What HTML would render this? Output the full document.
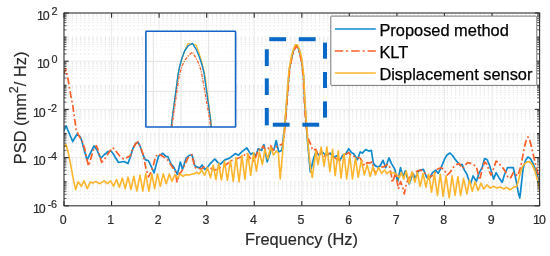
<!DOCTYPE html>
<html lang="en">
<head>
<meta charset="utf-8">
<title>PSD comparison</title>
<style>
html,body{margin:0;padding:0;background:#ffffff;}
body{width:550px;height:256px;overflow:hidden;font-family:"Liberation Sans",Arial,sans-serif;}
svg{display:block;}
</style>
</head>
<body>
<svg width="550" height="256" viewBox="0 0 550 256">
<rect x="0" y="0" width="550" height="256" fill="#ffffff"/>
<g stroke="#e0e0e0" stroke-width="0.85" stroke-dasharray="1.3 2.82" fill="none">
<line x1="67.6" y1="198.55" x2="539.6" y2="198.55"/>
<line x1="67.6" y1="194.30" x2="539.6" y2="194.30"/>
<line x1="67.6" y1="191.29" x2="539.6" y2="191.29"/>
<line x1="67.6" y1="188.95" x2="539.6" y2="188.95"/>
<line x1="67.6" y1="187.05" x2="539.6" y2="187.05"/>
<line x1="67.6" y1="185.43" x2="539.6" y2="185.43"/>
<line x1="67.6" y1="184.04" x2="539.6" y2="184.04"/>
<line x1="67.6" y1="182.80" x2="539.6" y2="182.80"/>
<line x1="67.6" y1="174.45" x2="539.6" y2="174.45"/>
<line x1="67.6" y1="170.20" x2="539.6" y2="170.20"/>
<line x1="67.6" y1="167.19" x2="539.6" y2="167.19"/>
<line x1="67.6" y1="164.85" x2="539.6" y2="164.85"/>
<line x1="67.6" y1="162.95" x2="539.6" y2="162.95"/>
<line x1="67.6" y1="161.33" x2="539.6" y2="161.33"/>
<line x1="67.6" y1="159.94" x2="539.6" y2="159.94"/>
<line x1="67.6" y1="158.70" x2="539.6" y2="158.70"/>
<line x1="67.6" y1="150.35" x2="539.6" y2="150.35"/>
<line x1="67.6" y1="146.10" x2="539.6" y2="146.10"/>
<line x1="67.6" y1="143.09" x2="539.6" y2="143.09"/>
<line x1="67.6" y1="140.75" x2="539.6" y2="140.75"/>
<line x1="67.6" y1="138.85" x2="539.6" y2="138.85"/>
<line x1="67.6" y1="137.23" x2="539.6" y2="137.23"/>
<line x1="67.6" y1="135.84" x2="539.6" y2="135.84"/>
<line x1="67.6" y1="134.60" x2="539.6" y2="134.60"/>
<line x1="67.6" y1="126.25" x2="539.6" y2="126.25"/>
<line x1="67.6" y1="122.00" x2="539.6" y2="122.00"/>
<line x1="67.6" y1="118.99" x2="539.6" y2="118.99"/>
<line x1="67.6" y1="116.65" x2="539.6" y2="116.65"/>
<line x1="67.6" y1="114.75" x2="539.6" y2="114.75"/>
<line x1="67.6" y1="113.13" x2="539.6" y2="113.13"/>
<line x1="67.6" y1="111.74" x2="539.6" y2="111.74"/>
<line x1="67.6" y1="110.50" x2="539.6" y2="110.50"/>
<line x1="67.6" y1="102.15" x2="539.6" y2="102.15"/>
<line x1="67.6" y1="97.90" x2="539.6" y2="97.90"/>
<line x1="67.6" y1="94.89" x2="539.6" y2="94.89"/>
<line x1="67.6" y1="92.55" x2="539.6" y2="92.55"/>
<line x1="67.6" y1="90.65" x2="539.6" y2="90.65"/>
<line x1="67.6" y1="89.03" x2="539.6" y2="89.03"/>
<line x1="67.6" y1="87.64" x2="539.6" y2="87.64"/>
<line x1="67.6" y1="86.40" x2="539.6" y2="86.40"/>
<line x1="67.6" y1="78.05" x2="539.6" y2="78.05"/>
<line x1="67.6" y1="73.80" x2="539.6" y2="73.80"/>
<line x1="67.6" y1="70.79" x2="539.6" y2="70.79"/>
<line x1="67.6" y1="68.45" x2="539.6" y2="68.45"/>
<line x1="67.6" y1="66.55" x2="539.6" y2="66.55"/>
<line x1="67.6" y1="64.93" x2="539.6" y2="64.93"/>
<line x1="67.6" y1="63.54" x2="539.6" y2="63.54"/>
<line x1="67.6" y1="62.30" x2="539.6" y2="62.30"/>
<line x1="67.6" y1="53.95" x2="539.6" y2="53.95"/>
<line x1="67.6" y1="49.70" x2="539.6" y2="49.70"/>
<line x1="67.6" y1="46.69" x2="539.6" y2="46.69"/>
<line x1="67.6" y1="44.35" x2="539.6" y2="44.35"/>
<line x1="67.6" y1="42.45" x2="539.6" y2="42.45"/>
<line x1="67.6" y1="40.83" x2="539.6" y2="40.83"/>
<line x1="67.6" y1="39.44" x2="539.6" y2="39.44"/>
<line x1="67.6" y1="38.20" x2="539.6" y2="38.20"/>
<line x1="67.6" y1="29.85" x2="539.6" y2="29.85"/>
<line x1="67.6" y1="25.60" x2="539.6" y2="25.60"/>
<line x1="67.6" y1="22.59" x2="539.6" y2="22.59"/>
<line x1="67.6" y1="20.25" x2="539.6" y2="20.25"/>
<line x1="67.6" y1="18.35" x2="539.6" y2="18.35"/>
<line x1="67.6" y1="16.73" x2="539.6" y2="16.73"/>
<line x1="67.6" y1="15.34" x2="539.6" y2="15.34"/>
<line x1="67.6" y1="14.10" x2="539.6" y2="14.10"/>
</g>
<g stroke="#ececec" stroke-width="1" fill="none">
<line x1="111.56" y1="13.0" x2="111.56" y2="205.8"/>
<line x1="159.12" y1="13.0" x2="159.12" y2="205.8"/>
<line x1="206.68" y1="13.0" x2="206.68" y2="205.8"/>
<line x1="254.24" y1="13.0" x2="254.24" y2="205.8"/>
<line x1="301.80" y1="13.0" x2="301.80" y2="205.8"/>
<line x1="349.36" y1="13.0" x2="349.36" y2="205.8"/>
<line x1="396.92" y1="13.0" x2="396.92" y2="205.8"/>
<line x1="444.48" y1="13.0" x2="444.48" y2="205.8"/>
<line x1="492.04" y1="13.0" x2="492.04" y2="205.8"/>
<line x1="67.6" y1="181.70" x2="539.6" y2="181.70" stroke-width="0.85" stroke-dasharray="1.3 2.82" stroke="#e0e0e0"/>
<line x1="64.0" y1="157.60" x2="539.6" y2="157.60"/>
<line x1="67.6" y1="133.50" x2="539.6" y2="133.50" stroke-width="0.85" stroke-dasharray="1.3 2.82" stroke="#e0e0e0"/>
<line x1="64.0" y1="109.40" x2="539.6" y2="109.40"/>
<line x1="67.6" y1="85.30" x2="539.6" y2="85.30" stroke-width="0.85" stroke-dasharray="1.3 2.82" stroke="#e0e0e0"/>
<line x1="64.0" y1="61.20" x2="539.6" y2="61.20"/>
<line x1="67.6" y1="37.10" x2="539.6" y2="37.10" stroke-width="0.85" stroke-dasharray="1.3 2.82" stroke="#e0e0e0"/>
</g>
<clipPath id="ax"><rect x="64.0" y="13.0" width="475.6" height="192.8"/></clipPath>
<g clip-path="url(#ax)" fill="none" stroke-linejoin="round" stroke-linecap="butt">
<polyline stroke="#0f8acc" stroke-width="1.7" points="63.8,130.7 66.1,125.9 69.5,134.0 72.7,141.5 75.0,137.5 77.2,134.0 80.4,137.0 82.0,141.5 84.2,150.0 87.0,160.0 90.0,154.0 92.0,150.0 94.0,146.0 97.0,150.0 99.0,155.0 101.0,158.0 104.5,154.5 108.0,151.5 111.0,151.0 113.0,153.5 116.0,158.5 118.5,162.5 121.0,162.0 124.0,161.5 128.0,163.5 130.8,155.5 133.0,148.2 135.9,143.1 138.1,142.4 140.3,146.7 143.2,155.5 145.4,159.8 148.3,160.5 151.2,166.4 154.1,172.9 156.3,164.2 158.5,156.2 162.8,153.3 165.7,156.2 167.9,156.9 170.8,163.5 173.7,167.1 177.4,174.4 180.3,162.0 182.5,169.3 186.1,158.4 189.0,155.5 191.9,154.7 193.4,159.8 194.8,165.6 197.0,167.1 199.9,167.8 202.1,164.9 204.6,169.3 206.6,168.3 209.8,164.2 214.8,159.0 218.0,162.6 220.5,164.2 224.6,160.1 230.3,157.7 235.2,153.6 238.5,155.2 241.8,151.9 246.7,147.8 249.2,151.9 250.8,154.4 253.3,152.8 255.7,156.0 258.2,148.7 261.5,150.3 263.9,144.6 267.2,161.8 269.7,154.4 271.3,148.7 273.8,150.3 276.2,140.5 278.7,151.9 282.0,150.3 283.5,136.0 284.6,128.0 287.0,99.0 289.3,70.0 291.7,57.0 294.0,49.3 295.6,45.4 297.1,45.4 298.9,49.5 301.2,58.0 303.4,75.0 304.6,100.0 306.2,124.0 307.6,142.0 309.0,158.0 310.3,172.0 312.5,163.0 314.0,157.0 315.9,152.0 319.2,155.3 321.4,151.5 324.1,153.7 326.9,155.3 330.1,153.1 333.4,157.5 336.7,155.8 340.0,160.2 342.7,155.3 346.0,153.7 348.7,148.7 351.4,152.6 353.6,153.7 355.8,156.9 357.5,159.7 360.2,152.0 362.4,153.1 365.6,149.5 368.9,151.1 371.3,150.3 373.4,163.4 375.4,165.9 378.0,167.0 380.0,166.0 383.0,160.3 385.7,167.7 389.0,157.8 391.5,163.6 394.8,169.3 397.7,181.6 400.5,167.7 403.0,176.7 405.4,170.9 409.2,184.0 412.8,173.4 415.2,178.3 418.5,170.9 423.4,169.3 426.7,177.5 429.2,179.1 432.5,172.6 435.7,170.1 438.2,173.4 441.5,166.8 444.8,158.6 447.0,155.0 450.0,153.0 452.5,155.5 454.6,158.6 457.9,162.7 460.3,165.2 462.0,164.4 464.4,170.1 466.9,174.2 469.0,180.8 470.7,183.2 473.1,175.9 476.4,181.6 478.9,173.4 482.1,167.7 484.6,158.6 487.0,159.5 489.5,165.2 492.0,173.4 493.6,179.1 496.1,172.6 499.3,178.3 502.3,182.4 504.3,175.0 507.5,167.7 513.3,167.7 515.7,178.3 518.2,192.2 519.8,198.0 521.5,183.2 523.1,168.5 525.6,160.3 528.0,157.0 530.5,158.6 533.8,165.2 536.2,171.8 538.7,179.1 540.0,184.9"/>
<polyline stroke="#fb5f28" stroke-width="1.7" stroke-dasharray="7 2.6 1.8 2.6" points="63.8,74.0 65.8,69.0 67.8,77.6 70.7,95.2 72.7,105.0 74.2,116.0 76.2,130.0 79.0,136.0 83.0,142.5 85.0,150.0 87.0,160.0 88.6,166.0 91.0,158.0 93.5,150.0 96.3,145.7 98.5,151.0 100.0,157.0 101.6,162.3 104.0,160.0 107.0,155.3 110.0,151.0 112.8,147.6 116.6,152.0 119.8,156.0 123.6,159.0 126.0,158.0 130.0,156.0 132.4,150.0 135.5,144.0 138.0,142.0 140.5,147.0 143.0,154.0 146.1,169.3 148.5,177.0 151.2,171.5 153.4,164.9 155.5,156.9 157.7,154.0 161.4,155.5 167.2,159.1 170.1,163.5 172.3,167.1 175.2,170.7 177.0,182.0 179.5,173.5 181.0,172.2 183.2,168.5 185.4,163.5 187.5,158.4 191.9,154.7 193.4,161.3 194.8,167.1 196.3,168.5 198.0,168.0 201.0,169.0 204.0,167.0 207.0,170.0 211.5,168.3 215.0,170.0 219.0,168.0 222.0,167.0 224.6,165.9 227.5,163.5 230.3,161.0 235.0,159.3 240.0,157.5 244.3,155.2 246.7,152.8 250.8,159.3 254.1,161.0 256.5,155.0 258.2,149.5 261.0,150.0 263.1,146.2 265.5,150.0 268.0,149.0 270.5,145.4 273.0,150.3 277.0,146.2 279.5,145.4 282.8,143.7 284.0,138.0 284.9,128.0 287.3,99.0 289.6,70.0 291.9,57.5 294.2,50.3 295.8,46.6 297.0,46.6 298.8,50.7 301.0,59.0 303.1,75.0 304.3,100.0 305.8,124.0 308.0,138.0 310.5,143.8 312.7,150.4 315.9,149.3 317.6,153.7 319.8,153.1 324.1,156.4 328.5,153.7 330.7,153.1 334.0,156.9 336.7,159.1 339.4,160.2 341.6,158.0 344.9,154.8 348.7,152.6 350.9,155.3 353.6,156.4 357.5,157.5 360.2,158.0 362.4,161.9 364.6,165.7 367.2,162.6 370.0,163.0 372.1,161.8 373.8,169.1 375.4,173.2 377.9,169.1 380.0,166.8 383.5,167.0 387.4,164.5 389.5,166.0 391.5,175.9 392.3,182.4 395.6,173.4 397.7,184.9 398.4,189.0 400.5,181.6 403.0,188.1 404.3,193.9 406.2,184.0 409.0,178.0 412.8,174.2 417.7,170.9 421.0,170.1 425.1,173.4 429.2,177.5 433.3,175.0 437.4,169.3 440.7,167.7 443.9,169.3 447.2,175.0 450.5,171.8 453.8,166.8 457.0,164.4 459.5,163.6 462.0,168.5 464.4,166.0 467.4,162.7 469.8,163.0 473.1,164.4 476.4,166.8 478.0,173.4 479.7,180.0 482.1,169.3 484.6,161.9 487.0,164.4 489.5,171.8 491.1,175.0 493.6,168.5 496.1,161.1 498.5,162.7 501.0,166.0 503.4,168.5 505.9,172.6 508.4,178.3 510.8,177.5 513.3,172.6 515.5,174.0 517.4,175.9 519.0,172.0 520.7,166.8 522.3,158.6 524.0,149.0 526.0,141.0 528.0,137.0 530.0,141.0 532.0,149.0 533.8,157.0 536.2,166.8 538.4,175.0 540.0,183.2"/>
<polyline stroke="#fdb52c" stroke-width="1.6" points="64.2,147.0 66.0,144.5 68.3,152.7 70.8,165.5 73.7,180.9 75.6,189.7 78.2,181.8 81.3,186.4 84.0,180.9 87.3,188.6 90.3,182.0 92.8,183.1 95.7,181.5 99.9,183.7 104.3,180.9 107.5,183.7 110.6,180.9 113.6,186.3 116.5,179.5 119.4,187.2 122.3,178.1 125.2,188.6 128.0,177.2 131.0,189.5 133.8,176.4 136.8,191.0 140.0,175.1 142.8,191.1 145.7,173.9 148.9,191.1 151.8,173.9 154.6,188.7 157.5,173.9 160.3,186.2 163.3,173.9 166.2,183.8 169.3,173.9 172.0,181.3 174.8,174.6 177.5,178.0 180.5,174.0 183.0,176.4 186.0,174.6 189.0,175.0 192.0,174.0 194.5,173.6 196.9,172.3 199.0,174.0 201.7,170.0 204.6,175.5 207.5,167.5 210.5,177.7 213.2,165.1 215.9,179.5 218.7,163.5 221.4,180.0 224.5,161.3 227.4,180.5 230.4,160.2 233.2,181.5 236.1,157.5 239.1,182.0 241.9,155.3 244.9,179.3 247.8,153.6 250.7,175.5 253.6,152.5 256.4,171.1 259.4,152.0 262.4,164.6 264.9,149.5 267.8,159.0 270.6,147.5 273.5,155.0 276.4,151.0 278.4,153.0 280.2,179.0 282.6,152.8 283.4,142.0 284.4,128.0 286.7,99.0 289.0,70.0 291.4,56.5 293.6,48.5 295.3,44.8 297.3,44.8 299.2,48.5 301.6,57.5 303.7,75.0 304.9,100.0 306.5,124.0 307.6,140.0 308.8,152.0 310.5,168.0 312.3,177.5 314.0,164.0 315.9,150.9 317.9,164.6 321.2,147.1 324.1,166.2 326.9,147.1 329.9,171.6 332.5,149.3 335.2,175.7 338.3,150.9 341.0,178.2 344.1,153.7 346.7,179.0 349.8,155.8 352.5,179.0 355.5,158.0 358.2,177.3 361.3,160.2 364.3,174.9 367.2,165.0 370.2,176.5 373.0,166.7 375.4,174.9 378.7,167.5 381.5,173.3 384.5,170.0 386.8,173.7 389.0,171.8 391.5,173.4 394.0,172.6 396.4,174.2 399.3,177.5 401.3,172.6 403.8,179.1 406.2,171.0 409.2,183.2 412.0,171.8 414.8,182.4 417.4,172.6 420.2,186.5 423.0,173.4 425.9,187.3 428.7,174.2 431.6,192.2 434.4,173.4 437.4,195.5 440.3,174.2 443.1,196.3 446.1,175.9 449.2,198.0 452.1,175.9 455.1,195.5 457.9,176.7 460.6,195.5 463.6,178.3 466.9,193.9 469.5,180.0 472.3,191.4 475.1,181.6 478.0,190.6 481.0,183.2 483.8,189.0 487.0,184.9 490.3,188.1 493.6,186.2 496.9,188.1 500.2,187.0 503.9,189.0 506.7,187.3 510.0,189.8 513.3,187.3 516.6,186.5 518.2,181.6 519.8,175.0 522.3,166.8 524.8,163.6 527.2,161.9 529.7,161.9 532.1,164.4 534.6,170.1 537.0,178.3 538.7,184.9 540.3,194.7"/>
</g>
<g stroke="#0a69c8" stroke-width="4" fill="none">
<line x1="269.3" y1="39.2" x2="286.0" y2="39.2"/>
<line x1="298.8" y1="39.2" x2="315.6" y2="39.2"/>
<line x1="272.8" y1="124.7" x2="289.6" y2="124.7"/>
<line x1="302.4" y1="124.7" x2="319.2" y2="124.7"/>
<line x1="266.8" y1="49.3" x2="266.8" y2="66.0"/>
<line x1="266.8" y1="78.4" x2="266.8" y2="95.0"/>
<line x1="266.8" y1="108.0" x2="266.8" y2="125.4"/>
<line x1="325.0" y1="42.6" x2="325.0" y2="58.7"/>
<line x1="325.0" y1="72.0" x2="325.0" y2="88.0"/>
<line x1="325.0" y1="101.4" x2="325.0" y2="117.6"/>
</g>
<rect x="145.9" y="31.3" width="89.7" height="95.7" fill="#ffffff"/>
<g stroke="#e4e4e4" stroke-width="1" fill="none">
<line x1="153.4" y1="31.3" x2="153.4" y2="127.0"/>
<line x1="181.0" y1="31.3" x2="181.0" y2="127.0"/>
<line x1="208.6" y1="31.3" x2="208.6" y2="127.0"/>
<line x1="145.9" y1="61.4" x2="235.6" y2="61.4"/>
<line x1="145.9" y1="91.4" x2="235.6" y2="91.4"/>
</g>
<g stroke="#f0f0f0" stroke-width="0.8" stroke-dasharray="1.2 2.9" fill="none">
<line x1="147.9" y1="52.37" x2="235.6" y2="52.37"/>
<line x1="147.9" y1="47.09" x2="235.6" y2="47.09"/>
<line x1="147.9" y1="43.34" x2="235.6" y2="43.34"/>
<line x1="147.9" y1="40.43" x2="235.6" y2="40.43"/>
<line x1="147.9" y1="38.06" x2="235.6" y2="38.06"/>
<line x1="147.9" y1="36.05" x2="235.6" y2="36.05"/>
<line x1="147.9" y1="34.31" x2="235.6" y2="34.31"/>
<line x1="147.9" y1="32.77" x2="235.6" y2="32.77"/>
<line x1="147.9" y1="82.37" x2="235.6" y2="82.37"/>
<line x1="147.9" y1="77.09" x2="235.6" y2="77.09"/>
<line x1="147.9" y1="73.34" x2="235.6" y2="73.34"/>
<line x1="147.9" y1="70.43" x2="235.6" y2="70.43"/>
<line x1="147.9" y1="68.06" x2="235.6" y2="68.06"/>
<line x1="147.9" y1="66.05" x2="235.6" y2="66.05"/>
<line x1="147.9" y1="64.31" x2="235.6" y2="64.31"/>
<line x1="147.9" y1="62.77" x2="235.6" y2="62.77"/>
<line x1="147.9" y1="112.37" x2="235.6" y2="112.37"/>
<line x1="147.9" y1="107.09" x2="235.6" y2="107.09"/>
<line x1="147.9" y1="103.34" x2="235.6" y2="103.34"/>
<line x1="147.9" y1="100.43" x2="235.6" y2="100.43"/>
<line x1="147.9" y1="98.06" x2="235.6" y2="98.06"/>
<line x1="147.9" y1="96.05" x2="235.6" y2="96.05"/>
<line x1="147.9" y1="94.31" x2="235.6" y2="94.31"/>
<line x1="147.9" y1="92.77" x2="235.6" y2="92.77"/>
</g>
<clipPath id="in"><rect x="145.9" y="31.3" width="89.7" height="95.7"/></clipPath>
<g clip-path="url(#in)" fill="none" stroke-linejoin="round">
<polyline stroke="#fdb52c" stroke-width="1.25" points="171.3,127.2 172.0,120.0 178.4,72.0 179.4,67.0 182.0,59.0 185.0,50.0 188.0,43.6 196.0,44.8 199.0,53.0 202.0,63.0 204.0,71.0 205.4,78.0 210.8,120.0 211.3,127.2"/>
<polyline stroke="#0f8acc" stroke-width="1.4" points="171.3,127.2 172.0,120.0 178.0,75.0 180.0,65.0 182.0,58.0 184.6,51.0 188.0,46.0 192.4,43.4 196.0,49.0 199.0,56.0 202.0,65.0 204.0,73.0 210.6,120.0 211.1,127.2"/>
<polyline stroke="#fb5f28" stroke-width="1.3" stroke-dasharray="3.2 1.3 1.1 1.3" points="171.9,127.2 172.8,120.0 178.8,78.0 180.0,73.0 182.0,66.0 185.0,60.0 188.0,56.0 192.4,52.0 196.0,58.0 199.0,64.0 201.4,72.0 202.8,80.0 209.8,120.0 210.5,127.2"/>
</g>
<rect x="145.9" y="31.3" width="89.7" height="95.7" fill="none" stroke="#1362c9" stroke-width="1.6" rx="0.6"/>
<g stroke="#303030" stroke-width="1.1" fill="none">
<rect x="64.0" y="13.0" width="475.6" height="192.8"/>
<line x1="64.00" y1="205.8" x2="64.00" y2="201.0"/>
<line x1="64.00" y1="13.0" x2="64.00" y2="17.8"/>
<line x1="111.56" y1="205.8" x2="111.56" y2="201.0"/>
<line x1="111.56" y1="13.0" x2="111.56" y2="17.8"/>
<line x1="159.12" y1="205.8" x2="159.12" y2="201.0"/>
<line x1="159.12" y1="13.0" x2="159.12" y2="17.8"/>
<line x1="206.68" y1="205.8" x2="206.68" y2="201.0"/>
<line x1="206.68" y1="13.0" x2="206.68" y2="17.8"/>
<line x1="254.24" y1="205.8" x2="254.24" y2="201.0"/>
<line x1="254.24" y1="13.0" x2="254.24" y2="17.8"/>
<line x1="301.80" y1="205.8" x2="301.80" y2="201.0"/>
<line x1="301.80" y1="13.0" x2="301.80" y2="17.8"/>
<line x1="349.36" y1="205.8" x2="349.36" y2="201.0"/>
<line x1="349.36" y1="13.0" x2="349.36" y2="17.8"/>
<line x1="396.92" y1="205.8" x2="396.92" y2="201.0"/>
<line x1="396.92" y1="13.0" x2="396.92" y2="17.8"/>
<line x1="444.48" y1="205.8" x2="444.48" y2="201.0"/>
<line x1="444.48" y1="13.0" x2="444.48" y2="17.8"/>
<line x1="492.04" y1="205.8" x2="492.04" y2="201.0"/>
<line x1="492.04" y1="13.0" x2="492.04" y2="17.8"/>
<line x1="539.60" y1="205.8" x2="539.60" y2="201.0"/>
<line x1="539.60" y1="13.0" x2="539.60" y2="17.8"/>
<line x1="64.0" y1="205.80" x2="68.8" y2="205.80"/>
<line x1="539.6" y1="205.80" x2="534.8" y2="205.80"/>
<line x1="64.0" y1="181.70" x2="66.6" y2="181.70"/>
<line x1="539.6" y1="181.70" x2="537.0" y2="181.70"/>
<line x1="64.0" y1="157.60" x2="68.8" y2="157.60"/>
<line x1="539.6" y1="157.60" x2="534.8" y2="157.60"/>
<line x1="64.0" y1="133.50" x2="66.6" y2="133.50"/>
<line x1="539.6" y1="133.50" x2="537.0" y2="133.50"/>
<line x1="64.0" y1="109.40" x2="68.8" y2="109.40"/>
<line x1="539.6" y1="109.40" x2="534.8" y2="109.40"/>
<line x1="64.0" y1="85.30" x2="66.6" y2="85.30"/>
<line x1="539.6" y1="85.30" x2="537.0" y2="85.30"/>
<line x1="64.0" y1="61.20" x2="68.8" y2="61.20"/>
<line x1="539.6" y1="61.20" x2="534.8" y2="61.20"/>
<line x1="64.0" y1="37.10" x2="66.6" y2="37.10"/>
<line x1="539.6" y1="37.10" x2="537.0" y2="37.10"/>
<line x1="64.0" y1="13.00" x2="68.8" y2="13.00"/>
<line x1="539.6" y1="13.00" x2="534.8" y2="13.00"/>
</g>
<g stroke="#303030" stroke-width="0.8" fill="none">
<line x1="64.0" y1="198.55" x2="66.5" y2="198.55"/>
<line x1="539.6" y1="198.55" x2="537.1" y2="198.55"/>
<line x1="64.0" y1="194.30" x2="66.5" y2="194.30"/>
<line x1="539.6" y1="194.30" x2="537.1" y2="194.30"/>
<line x1="64.0" y1="191.29" x2="66.5" y2="191.29"/>
<line x1="539.6" y1="191.29" x2="537.1" y2="191.29"/>
<line x1="64.0" y1="188.95" x2="66.5" y2="188.95"/>
<line x1="539.6" y1="188.95" x2="537.1" y2="188.95"/>
<line x1="64.0" y1="187.05" x2="66.5" y2="187.05"/>
<line x1="539.6" y1="187.05" x2="537.1" y2="187.05"/>
<line x1="64.0" y1="185.43" x2="66.5" y2="185.43"/>
<line x1="539.6" y1="185.43" x2="537.1" y2="185.43"/>
<line x1="64.0" y1="184.04" x2="66.5" y2="184.04"/>
<line x1="539.6" y1="184.04" x2="537.1" y2="184.04"/>
<line x1="64.0" y1="182.80" x2="66.5" y2="182.80"/>
<line x1="539.6" y1="182.80" x2="537.1" y2="182.80"/>
<line x1="64.0" y1="174.45" x2="66.5" y2="174.45"/>
<line x1="539.6" y1="174.45" x2="537.1" y2="174.45"/>
<line x1="64.0" y1="170.20" x2="66.5" y2="170.20"/>
<line x1="539.6" y1="170.20" x2="537.1" y2="170.20"/>
<line x1="64.0" y1="167.19" x2="66.5" y2="167.19"/>
<line x1="539.6" y1="167.19" x2="537.1" y2="167.19"/>
<line x1="64.0" y1="164.85" x2="66.5" y2="164.85"/>
<line x1="539.6" y1="164.85" x2="537.1" y2="164.85"/>
<line x1="64.0" y1="162.95" x2="66.5" y2="162.95"/>
<line x1="539.6" y1="162.95" x2="537.1" y2="162.95"/>
<line x1="64.0" y1="161.33" x2="66.5" y2="161.33"/>
<line x1="539.6" y1="161.33" x2="537.1" y2="161.33"/>
<line x1="64.0" y1="159.94" x2="66.5" y2="159.94"/>
<line x1="539.6" y1="159.94" x2="537.1" y2="159.94"/>
<line x1="64.0" y1="158.70" x2="66.5" y2="158.70"/>
<line x1="539.6" y1="158.70" x2="537.1" y2="158.70"/>
<line x1="64.0" y1="150.35" x2="66.5" y2="150.35"/>
<line x1="539.6" y1="150.35" x2="537.1" y2="150.35"/>
<line x1="64.0" y1="146.10" x2="66.5" y2="146.10"/>
<line x1="539.6" y1="146.10" x2="537.1" y2="146.10"/>
<line x1="64.0" y1="143.09" x2="66.5" y2="143.09"/>
<line x1="539.6" y1="143.09" x2="537.1" y2="143.09"/>
<line x1="64.0" y1="140.75" x2="66.5" y2="140.75"/>
<line x1="539.6" y1="140.75" x2="537.1" y2="140.75"/>
<line x1="64.0" y1="138.85" x2="66.5" y2="138.85"/>
<line x1="539.6" y1="138.85" x2="537.1" y2="138.85"/>
<line x1="64.0" y1="137.23" x2="66.5" y2="137.23"/>
<line x1="539.6" y1="137.23" x2="537.1" y2="137.23"/>
<line x1="64.0" y1="135.84" x2="66.5" y2="135.84"/>
<line x1="539.6" y1="135.84" x2="537.1" y2="135.84"/>
<line x1="64.0" y1="134.60" x2="66.5" y2="134.60"/>
<line x1="539.6" y1="134.60" x2="537.1" y2="134.60"/>
<line x1="64.0" y1="126.25" x2="66.5" y2="126.25"/>
<line x1="539.6" y1="126.25" x2="537.1" y2="126.25"/>
<line x1="64.0" y1="122.00" x2="66.5" y2="122.00"/>
<line x1="539.6" y1="122.00" x2="537.1" y2="122.00"/>
<line x1="64.0" y1="118.99" x2="66.5" y2="118.99"/>
<line x1="539.6" y1="118.99" x2="537.1" y2="118.99"/>
<line x1="64.0" y1="116.65" x2="66.5" y2="116.65"/>
<line x1="539.6" y1="116.65" x2="537.1" y2="116.65"/>
<line x1="64.0" y1="114.75" x2="66.5" y2="114.75"/>
<line x1="539.6" y1="114.75" x2="537.1" y2="114.75"/>
<line x1="64.0" y1="113.13" x2="66.5" y2="113.13"/>
<line x1="539.6" y1="113.13" x2="537.1" y2="113.13"/>
<line x1="64.0" y1="111.74" x2="66.5" y2="111.74"/>
<line x1="539.6" y1="111.74" x2="537.1" y2="111.74"/>
<line x1="64.0" y1="110.50" x2="66.5" y2="110.50"/>
<line x1="539.6" y1="110.50" x2="537.1" y2="110.50"/>
<line x1="64.0" y1="102.15" x2="66.5" y2="102.15"/>
<line x1="539.6" y1="102.15" x2="537.1" y2="102.15"/>
<line x1="64.0" y1="97.90" x2="66.5" y2="97.90"/>
<line x1="539.6" y1="97.90" x2="537.1" y2="97.90"/>
<line x1="64.0" y1="94.89" x2="66.5" y2="94.89"/>
<line x1="539.6" y1="94.89" x2="537.1" y2="94.89"/>
<line x1="64.0" y1="92.55" x2="66.5" y2="92.55"/>
<line x1="539.6" y1="92.55" x2="537.1" y2="92.55"/>
<line x1="64.0" y1="90.65" x2="66.5" y2="90.65"/>
<line x1="539.6" y1="90.65" x2="537.1" y2="90.65"/>
<line x1="64.0" y1="89.03" x2="66.5" y2="89.03"/>
<line x1="539.6" y1="89.03" x2="537.1" y2="89.03"/>
<line x1="64.0" y1="87.64" x2="66.5" y2="87.64"/>
<line x1="539.6" y1="87.64" x2="537.1" y2="87.64"/>
<line x1="64.0" y1="86.40" x2="66.5" y2="86.40"/>
<line x1="539.6" y1="86.40" x2="537.1" y2="86.40"/>
<line x1="64.0" y1="78.05" x2="66.5" y2="78.05"/>
<line x1="539.6" y1="78.05" x2="537.1" y2="78.05"/>
<line x1="64.0" y1="73.80" x2="66.5" y2="73.80"/>
<line x1="539.6" y1="73.80" x2="537.1" y2="73.80"/>
<line x1="64.0" y1="70.79" x2="66.5" y2="70.79"/>
<line x1="539.6" y1="70.79" x2="537.1" y2="70.79"/>
<line x1="64.0" y1="68.45" x2="66.5" y2="68.45"/>
<line x1="539.6" y1="68.45" x2="537.1" y2="68.45"/>
<line x1="64.0" y1="66.55" x2="66.5" y2="66.55"/>
<line x1="539.6" y1="66.55" x2="537.1" y2="66.55"/>
<line x1="64.0" y1="64.93" x2="66.5" y2="64.93"/>
<line x1="539.6" y1="64.93" x2="537.1" y2="64.93"/>
<line x1="64.0" y1="63.54" x2="66.5" y2="63.54"/>
<line x1="539.6" y1="63.54" x2="537.1" y2="63.54"/>
<line x1="64.0" y1="62.30" x2="66.5" y2="62.30"/>
<line x1="539.6" y1="62.30" x2="537.1" y2="62.30"/>
<line x1="64.0" y1="53.95" x2="66.5" y2="53.95"/>
<line x1="539.6" y1="53.95" x2="537.1" y2="53.95"/>
<line x1="64.0" y1="49.70" x2="66.5" y2="49.70"/>
<line x1="539.6" y1="49.70" x2="537.1" y2="49.70"/>
<line x1="64.0" y1="46.69" x2="66.5" y2="46.69"/>
<line x1="539.6" y1="46.69" x2="537.1" y2="46.69"/>
<line x1="64.0" y1="44.35" x2="66.5" y2="44.35"/>
<line x1="539.6" y1="44.35" x2="537.1" y2="44.35"/>
<line x1="64.0" y1="42.45" x2="66.5" y2="42.45"/>
<line x1="539.6" y1="42.45" x2="537.1" y2="42.45"/>
<line x1="64.0" y1="40.83" x2="66.5" y2="40.83"/>
<line x1="539.6" y1="40.83" x2="537.1" y2="40.83"/>
<line x1="64.0" y1="39.44" x2="66.5" y2="39.44"/>
<line x1="539.6" y1="39.44" x2="537.1" y2="39.44"/>
<line x1="64.0" y1="38.20" x2="66.5" y2="38.20"/>
<line x1="539.6" y1="38.20" x2="537.1" y2="38.20"/>
<line x1="64.0" y1="29.85" x2="66.5" y2="29.85"/>
<line x1="539.6" y1="29.85" x2="537.1" y2="29.85"/>
<line x1="64.0" y1="25.60" x2="66.5" y2="25.60"/>
<line x1="539.6" y1="25.60" x2="537.1" y2="25.60"/>
<line x1="64.0" y1="22.59" x2="66.5" y2="22.59"/>
<line x1="539.6" y1="22.59" x2="537.1" y2="22.59"/>
<line x1="64.0" y1="20.25" x2="66.5" y2="20.25"/>
<line x1="539.6" y1="20.25" x2="537.1" y2="20.25"/>
<line x1="64.0" y1="18.35" x2="66.5" y2="18.35"/>
<line x1="539.6" y1="18.35" x2="537.1" y2="18.35"/>
<line x1="64.0" y1="16.73" x2="66.5" y2="16.73"/>
<line x1="539.6" y1="16.73" x2="537.1" y2="16.73"/>
<line x1="64.0" y1="15.34" x2="66.5" y2="15.34"/>
<line x1="539.6" y1="15.34" x2="537.1" y2="15.34"/>
<line x1="64.0" y1="14.10" x2="66.5" y2="14.10"/>
<line x1="539.6" y1="14.10" x2="537.1" y2="14.10"/>
</g>
<rect x="330.8" y="16.1" width="206.0" height="69.3" rx="0.8" fill="#ffffff" stroke="#666666" stroke-width="0.9"/>
<g fill="none" stroke-width="1.45">
<line x1="335.0" y1="28.9" x2="375.8" y2="28.9" stroke="#0f8acc"/>
<line x1="334.8" y1="51" x2="375.8" y2="51" stroke="#fb5f28" stroke-dasharray="8.4 3 2 3"/>
<line x1="335.0" y1="73" x2="375.8" y2="73" stroke="#fdb52c"/>
</g>
<g font-family="'Liberation Sans', Arial, sans-serif" font-size="16.4px" fill="#000000" stroke="#000000" stroke-width="0.25">
<text x="379.4" y="35.6">Proposed method</text>
<text x="379.4" y="57.5">KLT</text>
<text x="379.4" y="79.8">Displacement sensor</text>
</g>
<g font-family="'Liberation Sans', Arial, sans-serif" fill="#2a2a2a" stroke="#2a2a2a" stroke-width="0.2">
<text x="63.2" y="223.6" font-size="12.4px" text-anchor="middle">0</text>
<text x="110.8" y="223.6" font-size="12.4px" text-anchor="middle">1</text>
<text x="158.3" y="223.6" font-size="12.4px" text-anchor="middle">2</text>
<text x="205.9" y="223.6" font-size="12.4px" text-anchor="middle">3</text>
<text x="253.4" y="223.6" font-size="12.4px" text-anchor="middle">4</text>
<text x="301.0" y="223.6" font-size="12.4px" text-anchor="middle">5</text>
<text x="348.6" y="223.6" font-size="12.4px" text-anchor="middle">6</text>
<text x="396.1" y="223.6" font-size="12.4px" text-anchor="middle">7</text>
<text x="443.7" y="223.6" font-size="12.4px" text-anchor="middle">8</text>
<text x="491.2" y="223.6" font-size="12.4px" text-anchor="middle">9</text>
<text x="538.9" y="223.6" font-size="12.4px" letter-spacing="-1" text-anchor="middle">10</text>
<text x="36.9" y="19.6" font-size="12.4px" letter-spacing="-1">10</text>
<text x="51.6" y="14.7" font-size="10.8px">2</text>
<text x="36.9" y="67.8" font-size="12.4px" letter-spacing="-1">10</text>
<text x="51.6" y="62.9" font-size="10.8px">0</text>
<text x="32.9" y="116.5" font-size="12.4px" letter-spacing="-1">10</text>
<text x="47.8" y="111.7" font-size="10.8px" letter-spacing="-0.4">-2</text>
<text x="32.9" y="164.7" font-size="12.4px" letter-spacing="-1">10</text>
<text x="47.8" y="159.9" font-size="10.8px" letter-spacing="-0.4">-4</text>
<text x="32.9" y="212.9" font-size="12.4px" letter-spacing="-1">10</text>
<text x="47.8" y="208.1" font-size="10.8px" letter-spacing="-0.4">-6</text>
<text x="301.5" y="245.0" font-size="16.4px" text-anchor="middle">Frequency (Hz)</text>
<text transform="translate(25.9,107.9) rotate(-90)" font-size="16.4px" text-anchor="middle">PSD (mm<tspan font-size="12.6px" dy="-8.4">2</tspan><tspan dy="8.4">/ Hz)</tspan></text>
</g>
</svg>
</body>
</html>
